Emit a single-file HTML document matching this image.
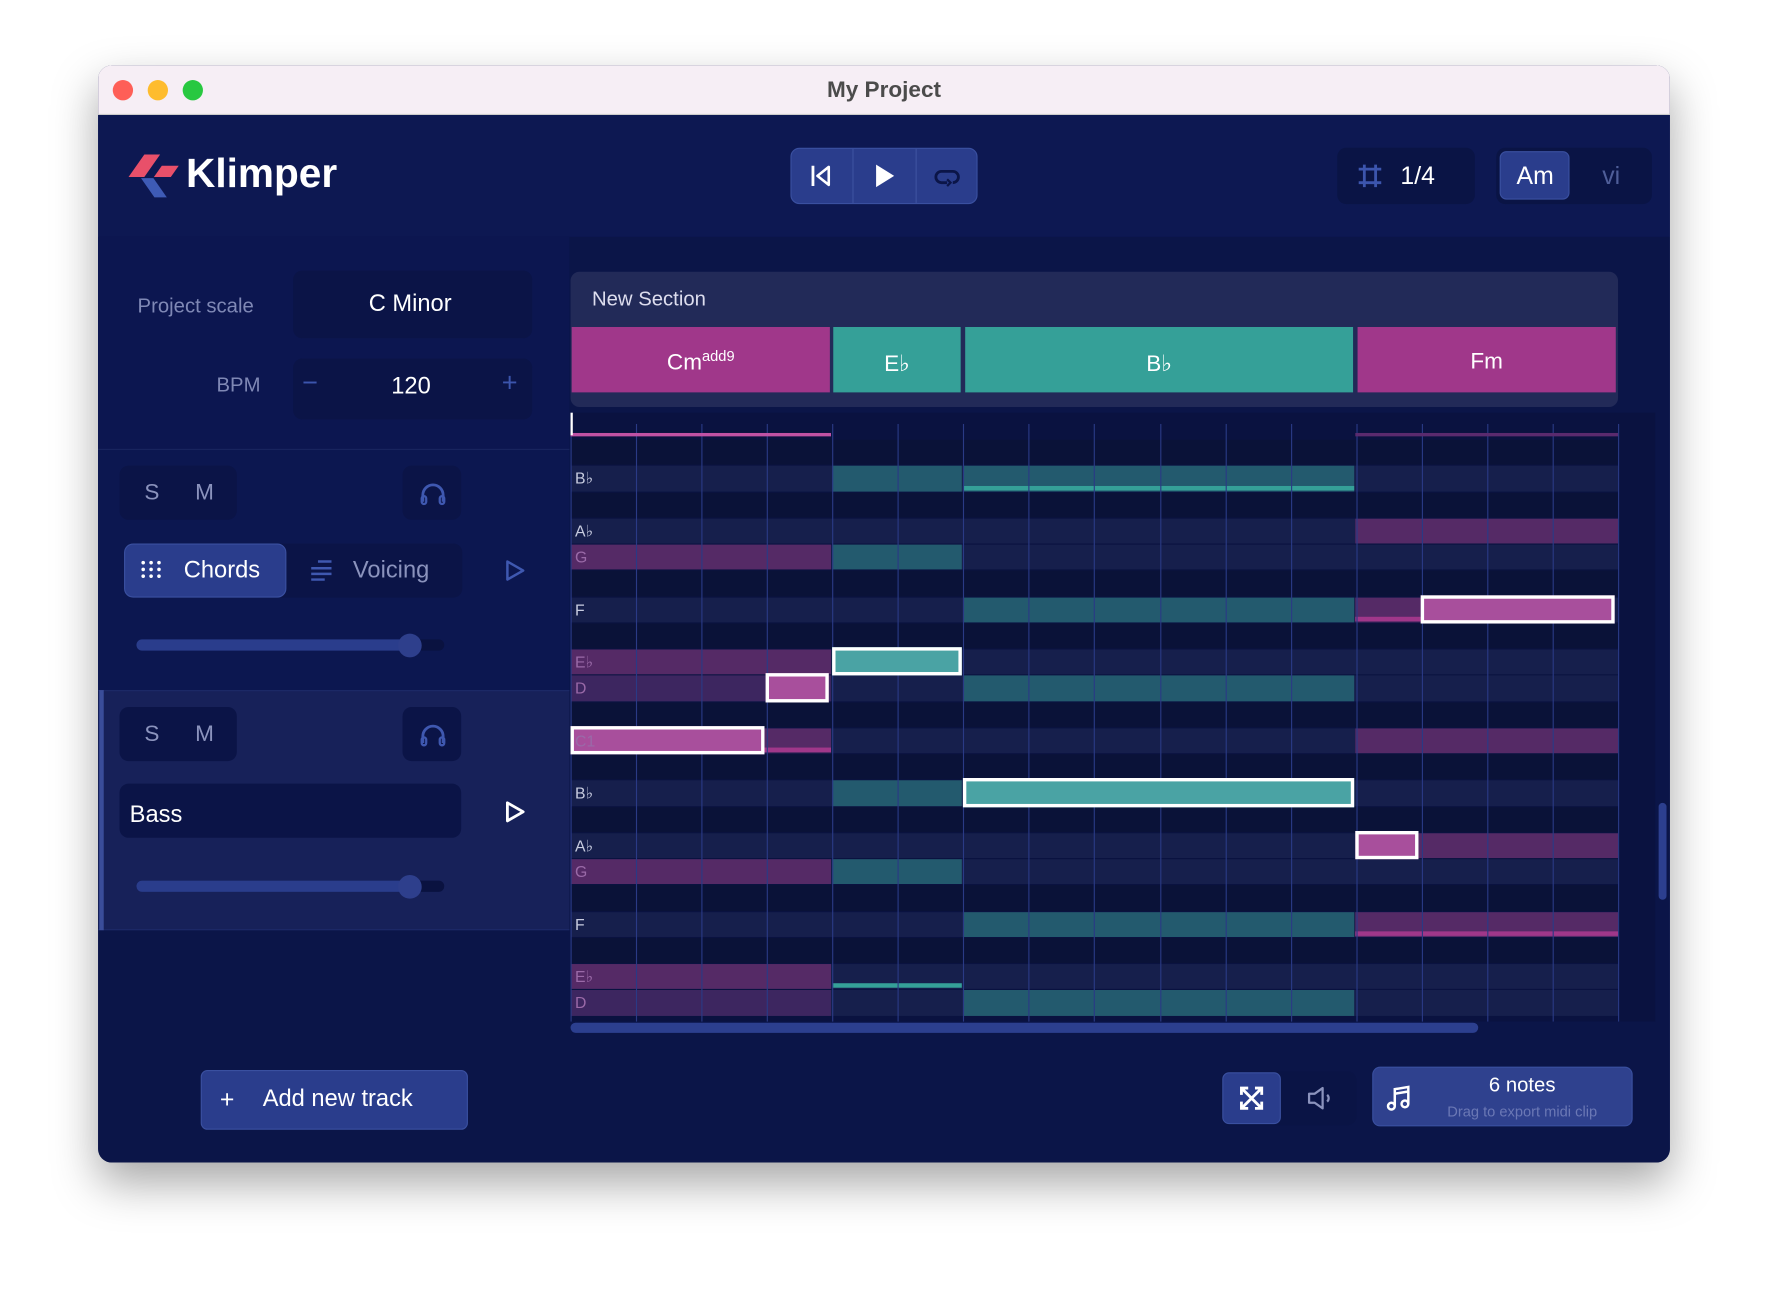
<!DOCTYPE html>
<html><head><meta charset="utf-8">
<style>
*{box-sizing:border-box;margin:0;padding:0}
html,body{width:1768px;height:1293px;overflow:hidden;background:#fff;font-family:"Liberation Sans",sans-serif}
#s{position:absolute;left:0;top:0;width:1568px;height:1147px;transform:scale(1.12755);transform-origin:0 0}
.a{position:absolute}
.win{left:87px;top:58px;width:1394px;height:973px;border-radius:12px;overflow:hidden;background:#0c1650;box-shadow:0 18px 40px rgba(0,0,0,.35)}
.t{color:#fff;white-space:nowrap}
</style></head><body><div id="s">
<div class="a win">
 <div class="a" style="left:0;top:0;width:1394px;height:44px;background:#f6eef5;border-bottom:1px solid #ccc"></div>
 <div class="a" style="left:13px;top:13px;width:18px;height:18px;border-radius:50%;background:#fe5f57"></div>
 <div class="a" style="left:44px;top:13px;width:18px;height:18px;border-radius:50%;background:#febc2e"></div>
 <div class="a" style="left:75px;top:13px;width:18px;height:18px;border-radius:50%;background:#28c840"></div>
 <div class="a" style="left:0;top:11px;width:1394px;text-align:center;font-size:20px;font-weight:bold;color:#4b4b4b">My Project</div>
 <div class="a" style="left:0;top:44px;width:1394px;height:108px;background:#0d1852"></div>
 <div class="a" style="left:0;top:152px;width:1394px;height:821px;background:#0b1548"></div>
</div>
<!-- logo -->
<div class="a" style="left:121px;top:137px;width:14px;height:20px;background:#e8506a;transform:skewX(-35deg)"></div>
<div class="a" style="left:140px;top:147px;width:15px;height:10px;background:#e8506a;transform:skewX(-35deg)"></div>
<div class="a" style="left:131px;top:158px;width:11px;height:17px;background:#3e5bb6;transform:skewX(35deg)"></div>
<div class="a t" style="left:165px;top:133px;font-size:36px;font-weight:bold">Klimper</div>
<!-- transport -->
<div class="a" style="left:701px;top:131px;width:166px;height:50px;border-radius:8px;background:#2a3d8c;border:1px solid #3a50a0"></div>
<div class="a" style="left:756px;top:132px;width:1px;height:48px;background:#3d52a0"></div>
<div class="a" style="left:812px;top:132px;width:1px;height:48px;background:#3d52a0"></div>
<svg class="a" style="left:718px;top:145px" width="22" height="22"><path d="M3 2V20" stroke="#fff" stroke-width="2.5"/><path d="M17 3L7 11L17 19Z" fill="none" stroke="#fff" stroke-width="2.3" stroke-linejoin="round"/></svg>
<div class="a" style="left:777px;top:146px;width:0;height:0;border-left:16px solid #fff;border-top:10px solid transparent;border-bottom:10px solid transparent"></div>
<svg class="a" style="left:828px;top:145px" width="24" height="22"><path d="M12 17H7a5 5 0 0 1 0-10h10a5 5 0 0 1 0 10" fill="none" stroke="#0b1548" stroke-width="2.5"/><path d="M12 14l3 3-3 3" fill="none" stroke="#0b1548" stroke-width="2"/></svg>
<div class="a" style="left:1186px;top:131px;width:122px;height:50px;border-radius:8px;background:#0a1445"></div>
<svg class="a" style="left:1204px;top:145px" width="22" height="22"><path d="M6 1V21M16 1V21M1 5H21M1 17H21" stroke="#3c55ad" stroke-width="2.5"/></svg>
<div class="a t" style="left:1242px;top:143px;font-size:22px">1/4</div>
<div class="a" style="left:1327px;top:131px;width:138px;height:50px;border-radius:8px;background:#0a1445"></div>
<div class="a" style="left:1330px;top:134px;width:62px;height:43px;border-radius:6px;background:#2a3d8c;border:1px solid #3a50a0"></div>
<div class="a t" style="left:1345px;top:143px;font-size:22px">Am</div>
<div class="a" style="left:1421px;top:143px;font-size:22px;color:#4f5e99">vi</div>
<!-- left panel -->
<div class="a" style="left:87px;top:210px;width:418px;height:188px;background:#0c1650"></div>
<div class="a" style="left:122px;top:261px;font-size:18px;color:#7f88b5">Project scale</div>
<div class="a" style="left:260px;top:240px;width:212px;height:60px;border-radius:8px;background:#0b1447"></div>
<div class="a t" style="left:327px;top:258px;font-size:21px">C Minor</div>
<div class="a" style="left:192px;top:331px;font-size:18px;color:#7f88b5">BPM</div>
<div class="a" style="left:260px;top:318px;width:212px;height:54px;border-radius:8px;background:#0b1447"></div>
<div class="a" style="left:268px;top:326px;font-size:24px;color:#3c55ad">−</div>
<div class="a t" style="left:347px;top:331px;font-size:21px">120</div>
<div class="a" style="left:445px;top:326px;font-size:24px;color:#3c55ad">+</div>
<div class="a" style="left:87px;top:398px;width:418px;height:214px;background:#0c1750;border-top:1px solid #1a2660"></div>
<div class="a" style="left:87px;top:612px;width:418px;height:213px;background:#172159;border-top:1px solid #1d2a68;border-bottom:1px solid #1d2a68"></div>
<div class="a" style="left:88px;top:612px;width:4px;height:213px;background:#3a4d9a"></div>
<!-- track1 -->
<div class="a" style="left:106px;top:413px;width:104px;height:48px;border-radius:8px;background:#0b1447"></div>
<div class="a" style="left:128px;top:426px;font-size:20px;color:#8b93bd">S</div>
<div class="a" style="left:173px;top:426px;font-size:20px;color:#8b93bd">M</div>
<div class="a" style="left:357px;top:413px;width:52px;height:48px;border-radius:8px;background:#0b1447"></div>
<svg class="a" style="left:372px;top:427px" width="24" height="22"><path d="M3 18V12a9 9 0 0 1 18 0v6" fill="none" stroke="#3f58b0" stroke-width="2.5"/><rect x="2" y="13" width="4" height="7" rx="2" fill="none" stroke="#3f58b0" stroke-width="2"/><rect x="18" y="13" width="4" height="7" rx="2" fill="none" stroke="#3f58b0" stroke-width="2"/></svg>
<div class="a" style="left:110px;top:482px;width:300px;height:48px;border-radius:8px;background:#0b1447"></div>
<div class="a" style="left:110px;top:482px;width:144px;height:48px;border-radius:8px;background:#2a3d8c;border:1px solid #3a50a0"></div>
<svg class="a" style="left:125px;top:497px" width="20" height="18"><g fill="#fff"><circle cx="2" cy="2" r="1.6"/><circle cx="9" cy="2" r="1.6"/><circle cx="16" cy="2" r="1.6"/><circle cx="2" cy="8" r="1.6"/><circle cx="9" cy="8" r="1.6"/><circle cx="16" cy="8" r="1.6"/><circle cx="2" cy="14" r="1.6"/><circle cx="9" cy="14" r="1.6"/><circle cx="16" cy="14" r="1.6"/></g></svg>
<div class="a t" style="left:163px;top:494px;font-size:21px">Chords</div>
<svg class="a" style="left:274px;top:496px" width="22" height="20"><path d="M8 2H20M2 8H20M2 13H20M2 18H14" stroke="#3f58b0" stroke-width="2.2"/></svg>
<div class="a" style="left:313px;top:494px;font-size:21px;color:#8b93bd">Voicing</div>
<svg class="a" style="left:448px;top:496px" width="18" height="20"><path d="M2 2L16 10L2 18Z" fill="none" stroke="#3f58b0" stroke-width="2.2" stroke-linejoin="round"/></svg>
<div class="a" style="left:121px;top:567px;width:273px;height:10px;border-radius:5px;background:#0a1240"></div>
<div class="a" style="left:121px;top:567px;width:245px;height:10px;border-radius:5px;background:#2a3d8c"></div>
<div class="a" style="left:353px;top:562px;width:21px;height:21px;border-radius:50%;background:#2e3f8c"></div>
<!-- track2 -->
<div class="a" style="left:106px;top:627px;width:104px;height:48px;border-radius:8px;background:#0b1447"></div>
<div class="a" style="left:128px;top:640px;font-size:20px;color:#8b93bd">S</div>
<div class="a" style="left:173px;top:640px;font-size:20px;color:#8b93bd">M</div>
<div class="a" style="left:357px;top:627px;width:52px;height:48px;border-radius:8px;background:#0b1447"></div>
<svg class="a" style="left:372px;top:641px" width="24" height="22"><path d="M3 18V12a9 9 0 0 1 18 0v6" fill="none" stroke="#3f58b0" stroke-width="2.5"/><rect x="2" y="13" width="4" height="7" rx="2" fill="none" stroke="#3f58b0" stroke-width="2"/><rect x="18" y="13" width="4" height="7" rx="2" fill="none" stroke="#3f58b0" stroke-width="2"/></svg>
<div class="a" style="left:106px;top:695px;width:303px;height:48px;border-radius:8px;background:#0b1447"></div>
<div class="a t" style="left:115px;top:711px;font-size:21px">Bass</div>
<svg class="a" style="left:448px;top:710px" width="18" height="20"><path d="M2 2L16 10L2 18Z" fill="none" stroke="#fff" stroke-width="2.5" stroke-linejoin="round"/></svg>
<div class="a" style="left:121px;top:781px;width:273px;height:10px;border-radius:5px;background:#0a1240"></div>
<div class="a" style="left:121px;top:781px;width:245px;height:10px;border-radius:5px;background:#2a3d8c"></div>
<div class="a" style="left:353px;top:776px;width:21px;height:21px;border-radius:50%;background:#2e3f8c"></div>
<!-- section -->
<div class="a" style="left:506px;top:241px;width:929px;height:120px;border-radius:8px;background:#222a58"></div>
<div class="a t" style="left:525px;top:255px;font-size:18px;color:#dde">New Section</div>
<div class="a" style="left:507px;top:290px;width:229px;height:58px;background:#a0378a"></div>
<div class="a" style="left:739px;top:290px;width:113px;height:58px;background:#35a098"></div>
<div class="a" style="left:856px;top:290px;width:344px;height:58px;background:#35a098"></div>
<div class="a" style="left:1204px;top:290px;width:229px;height:58px;background:#a0378a"></div>
<div class="a t" style="left:507px;top:308px;width:229px;text-align:center;font-size:20px">Cm<sup style="font-size:13px">add9</sup></div>
<div class="a t" style="left:739px;top:310px;width:113px;text-align:center;font-size:20px">E♭</div>
<div class="a t" style="left:856px;top:310px;width:344px;text-align:center;font-size:20px">B♭</div>
<div class="a t" style="left:1204px;top:310px;width:229px;text-align:center;font-size:20px">Fm</div>
<!-- grid -->
<div class="a" style="left:506px;top:366px;width:962px;height:540px;background:#0a1240"></div>
<div id="g"></div>
<div class="a" style="left:1471px;top:712px;width:7px;height:86px;border-radius:4px;background:#2c3f8f"></div>
<div class="a" style="left:506px;top:907px;width:805px;height:9px;border-radius:5px;background:#2c3f8f"></div>
<!-- bottom -->
<div class="a" style="left:178px;top:949px;width:237px;height:53px;border-radius:6px;background:#2a3d8c;border:1px solid #3a50a0"></div>
<div class="a t" style="left:195px;top:962px;font-size:22px">+</div>
<div class="a t" style="left:233px;top:963px;font-size:21px">Add new track</div>
<div class="a" style="left:1083px;top:950px;width:120px;height:48px;border-radius:8px;background:#0a1445"></div>
<div class="a" style="left:1084px;top:951px;width:52px;height:46px;border-radius:6px;background:#2a3d8c;border:1px solid #3a50a0"></div>
<svg class="a" style="left:1099px;top:963px" width="22" height="22"><g stroke="#fff" stroke-width="2.5" fill="none"><path d="M3 3L19 19M19 3L3 19"/><path d="M2 8V2H8M14 2H20V8M20 14V20H14M8 20H2V14"/></g></svg>
<svg class="a" style="left:1158px;top:962px" width="26" height="24"><path d="M3 8H8L15 3V21L8 16H3Z" fill="none" stroke="#8b93bd" stroke-width="2" stroke-linejoin="round"/><path d="M19 9a4 4 0 0 1 0 6" fill="none" stroke="#8b93bd" stroke-width="2"/></svg>
<div class="a" style="left:1217px;top:946px;width:231px;height:53px;border-radius:7px;background:#2f418e;border:1px solid #3a50a0"></div>
<svg class="a" style="left:1229px;top:962px" width="22" height="24"><g stroke="#fff" stroke-width="2.2" fill="none"><circle cx="5" cy="19" r="3"/><circle cx="17" cy="17" r="3"/><path d="M8 19V4L20 2V17M8 8L20 6"/></g></svg>
<div class="a t" style="left:1260px;top:952px;width:180px;text-align:center;font-size:18px">6 notes</div>
<div class="a" style="left:1260px;top:978px;width:180px;text-align:center;font-size:13px;color:#6b78b5">Drag to export midi clip</div>
</div>
<script>
var g=document.getElementById('g'),h='';
function r(x,y,w,hh,c,ex){h+='<div class="a" style="left:'+x+'px;top:'+y+'px;width:'+w+'px;height:'+hh+'px;background:'+c+';'+(ex||'')+'"></div>';}
var names=['','B♭','','A♭','G','','F','','E♭','D','','C1','','B♭','','A♭','G','','F','','E♭','D'];
var scale=[1,3,4,6,8,9,11,13,15,16,18,20,21];
var RH=23.25,T0=389;
function rt(i){return T0+i*RH;}
for(var i=0;i<22;i++){var c=scale.indexOf(i)>=0?'#161f4c':'#0a1238';r(506,rt(i)+1,929,RH-1,c);}
var cols=[[506,737],[738,853],[854,1201],[1202,1435]];
var M='#552a66',Md='#3d2660',Te='#235a6e';
function cell(i,ci,c,x0,x1){var a=x0||cols[ci][0],b=x1||cols[ci][1];r(a,rt(i)+1,b-a,RH-1,c);}
function stripe(i,c,a,b){r(a,rt(i)+RH-5,b-a,4,c);}
[4,8,16,20].forEach(function(i){cell(i,0,M)});[9,21].forEach(function(i){cell(i,0,Md)});
cell(11,0,M,678,737);stripe(11,'#a0378a',678,737);
[1,4,13,16].forEach(function(i){cell(i,1,Te)});stripe(20,'#35a098',738,853);
[1,6,9,18,21].forEach(function(i){cell(i,2,Te)});stripe(1,'#35a098',854,1201);
[3,11,15,18].forEach(function(i){cell(i,3,M)});cell(6,3,M,1202,1260);stripe(6,'#a0378a',1202,1260);stripe(18,'#a0378a',1202,1435);
for(var k=0;k<17;k++){var x=Math.round(506+k*58.06);r(x,376,1,530,'#2a3a85');}
r(506,384,231,3,'#c052a5');r(1202,384,233,3,'#5a2a6e');r(506,366,2,20,'#fff');
function note(i,a,b,c){h+='<div class="a" style="left:'+a+'px;top:'+(rt(i)-1)+'px;width:'+(b-a)+'px;height:'+(RH+2)+'px;background:'+c+';border:3px solid #fff"></div>';}
note(11,506,678,'#a84f9c');note(9,679,735,'#a84f9c');note(8,738,853,'#4aa3a4');note(13,854,1201,'#4aa3a4');note(15,1202,1258,'#a84f9c');note(6,1260,1432,'#a84f9c');
for(var i=0;i<22;i++)if(names[i]){var col=[4,8,9,11,16,20,21].indexOf(i)>=0?'#9a6aa8':'#c8cce0';h+='<div class="a" style="left:510px;top:'+(rt(i)+4)+'px;font-size:14px;color:'+col+'">'+names[i]+'</div>';}
g.innerHTML=h;
</script>
</body></html>
